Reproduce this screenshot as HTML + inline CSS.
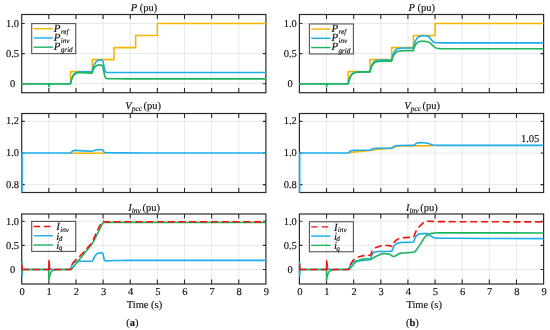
<!DOCTYPE html>
<html><head><meta charset="utf-8"><style>
html,body{margin:0;padding:0;background:#fff;}
svg{display:block;text-rendering:geometricPrecision;}
text{font-family:"Liberation Serif","Times New Roman",serif;fill:#111;stroke:#111;stroke-width:0.15px;}
.tl{font-size:10.5px;}
.tt{font-size:10.5px;}
.lg{font-size:11px;font-style:italic;}
.sb{font-size:7.2px;}
</style></head><body>
<svg width="550" height="330" viewBox="0 0 550 330">
<rect width="550" height="330" fill="#fff"/>
<path d="M48.83,14.5V92.7M75.97,14.5V92.7M103.1,14.5V92.7M130.23,14.5V92.7M157.37,14.5V92.7M184.5,14.5V92.7M211.63,14.5V92.7M238.77,14.5V92.7M21.7,83.68H265.9M21.7,53.6H265.9M21.7,23.52H265.9" stroke="#e2e2e2" stroke-width="0.75" fill="none"/>
<path d="M48.83,113.5V192.5M75.97,113.5V192.5M103.1,113.5V192.5M130.23,113.5V192.5M157.37,113.5V192.5M184.5,113.5V192.5M211.63,113.5V192.5M238.77,113.5V192.5M21.7,184.6H265.9M21.7,153.0H265.9M21.7,121.4H265.9" stroke="#e2e2e2" stroke-width="0.75" fill="none"/>
<path d="M48.83,214.0V284.0M75.97,214.0V284.0M103.1,214.0V284.0M130.23,214.0V284.0M157.37,214.0V284.0M184.5,214.0V284.0M211.63,214.0V284.0M238.77,214.0V284.0M21.7,269.52H265.9M21.7,245.38H265.9M21.7,221.24H265.9" stroke="#e2e2e2" stroke-width="0.75" fill="none"/>
<path d="M326.53,14.5V92.7M353.67,14.5V92.7M380.8,14.5V92.7M407.93,14.5V92.7M435.07,14.5V92.7M462.2,14.5V92.7M489.33,14.5V92.7M516.47,14.5V92.7M299.4,83.68H543.6M299.4,53.6H543.6M299.4,23.52H543.6" stroke="#e2e2e2" stroke-width="0.75" fill="none"/>
<path d="M326.53,113.5V192.5M353.67,113.5V192.5M380.8,113.5V192.5M407.93,113.5V192.5M435.07,113.5V192.5M462.2,113.5V192.5M489.33,113.5V192.5M516.47,113.5V192.5M299.4,184.6H543.6M299.4,153.0H543.6M299.4,121.4H543.6" stroke="#e2e2e2" stroke-width="0.75" fill="none"/>
<path d="M326.53,214.0V284.0M353.67,214.0V284.0M380.8,214.0V284.0M407.93,214.0V284.0M435.07,214.0V284.0M462.2,214.0V284.0M489.33,214.0V284.0M516.47,214.0V284.0M299.4,269.52H543.6M299.4,245.38H543.6M299.4,221.24H543.6" stroke="#e2e2e2" stroke-width="0.75" fill="none"/>
<path d="M48.83,92.7v-4.6M48.83,14.5v4.6M75.97,92.7v-4.6M75.97,14.5v4.6M103.1,92.7v-4.6M103.1,14.5v4.6M130.23,92.7v-4.6M130.23,14.5v4.6M157.37,92.7v-4.6M157.37,14.5v4.6M184.5,92.7v-4.6M184.5,14.5v4.6M211.63,92.7v-4.6M211.63,14.5v4.6M238.77,92.7v-4.6M238.77,14.5v4.6M21.7,83.68h3M265.9,83.68h-3M21.7,53.6h3M265.9,53.6h-3M21.7,23.52h3M265.9,23.52h-3" stroke="#2a2a2a" stroke-width="1.1" fill="none"/>
<rect x="21.7" y="14.5" width="244.2" height="78.2" stroke="#2a2a2a" stroke-width="1.2" fill="none"/>
<text x="12.5" y="86.68" text-anchor="middle" class="tl">0</text>
<text x="12.5" y="56.6" text-anchor="middle" class="tl">0.5</text>
<text x="12.5" y="26.52" text-anchor="middle" class="tl">1.0</text>
<path d="M48.83,192.5v-4.6M48.83,113.5v4.6M75.97,192.5v-4.6M75.97,113.5v4.6M103.1,192.5v-4.6M103.1,113.5v4.6M130.23,192.5v-4.6M130.23,113.5v4.6M157.37,192.5v-4.6M157.37,113.5v4.6M184.5,192.5v-4.6M184.5,113.5v4.6M211.63,192.5v-4.6M211.63,113.5v4.6M238.77,192.5v-4.6M238.77,113.5v4.6M21.7,184.6h3M265.9,184.6h-3M21.7,153.0h3M265.9,153.0h-3M21.7,121.4h3M265.9,121.4h-3" stroke="#2a2a2a" stroke-width="1.1" fill="none"/>
<rect x="21.7" y="113.5" width="244.2" height="79.0" stroke="#2a2a2a" stroke-width="1.2" fill="none"/>
<text x="12.5" y="187.6" text-anchor="middle" class="tl">0.8</text>
<text x="12.5" y="156.0" text-anchor="middle" class="tl">1.0</text>
<text x="12.5" y="124.4" text-anchor="middle" class="tl">1.2</text>
<path d="M48.83,284.0v-4.6M48.83,214.0v4.6M75.97,284.0v-4.6M75.97,214.0v4.6M103.1,284.0v-4.6M103.1,214.0v4.6M130.23,284.0v-4.6M130.23,214.0v4.6M157.37,284.0v-4.6M157.37,214.0v4.6M184.5,284.0v-4.6M184.5,214.0v4.6M211.63,284.0v-4.6M211.63,214.0v4.6M238.77,284.0v-4.6M238.77,214.0v4.6M21.7,269.52h3M265.9,269.52h-3M21.7,245.38h3M265.9,245.38h-3M21.7,221.24h3M265.9,221.24h-3" stroke="#2a2a2a" stroke-width="1.1" fill="none"/>
<rect x="21.7" y="214.0" width="244.2" height="70.0" stroke="#2a2a2a" stroke-width="1.2" fill="none"/>
<text x="12.5" y="273.32" text-anchor="middle" class="tl">0</text>
<text x="12.5" y="249.18" text-anchor="middle" class="tl">0.5</text>
<text x="12.5" y="225.04" text-anchor="middle" class="tl">1.0</text>
<path d="M326.53,92.7v-4.6M326.53,14.5v4.6M353.67,92.7v-4.6M353.67,14.5v4.6M380.8,92.7v-4.6M380.8,14.5v4.6M407.93,92.7v-4.6M407.93,14.5v4.6M435.07,92.7v-4.6M435.07,14.5v4.6M462.2,92.7v-4.6M462.2,14.5v4.6M489.33,92.7v-4.6M489.33,14.5v4.6M516.47,92.7v-4.6M516.47,14.5v4.6M299.4,83.68h3M543.6,83.68h-3M299.4,53.6h3M543.6,53.6h-3M299.4,23.52h3M543.6,23.52h-3" stroke="#2a2a2a" stroke-width="1.1" fill="none"/>
<rect x="299.4" y="14.5" width="244.2" height="78.2" stroke="#2a2a2a" stroke-width="1.2" fill="none"/>
<text x="290.2" y="86.68" text-anchor="middle" class="tl">0</text>
<text x="290.2" y="56.6" text-anchor="middle" class="tl">0.5</text>
<text x="290.2" y="26.52" text-anchor="middle" class="tl">1.0</text>
<path d="M326.53,192.5v-4.6M326.53,113.5v4.6M353.67,192.5v-4.6M353.67,113.5v4.6M380.8,192.5v-4.6M380.8,113.5v4.6M407.93,192.5v-4.6M407.93,113.5v4.6M435.07,192.5v-4.6M435.07,113.5v4.6M462.2,192.5v-4.6M462.2,113.5v4.6M489.33,192.5v-4.6M489.33,113.5v4.6M516.47,192.5v-4.6M516.47,113.5v4.6M299.4,184.6h3M543.6,184.6h-3M299.4,153.0h3M543.6,153.0h-3M299.4,121.4h3M543.6,121.4h-3" stroke="#2a2a2a" stroke-width="1.1" fill="none"/>
<rect x="299.4" y="113.5" width="244.2" height="79.0" stroke="#2a2a2a" stroke-width="1.2" fill="none"/>
<text x="290.2" y="187.6" text-anchor="middle" class="tl">0.8</text>
<text x="290.2" y="156.0" text-anchor="middle" class="tl">1.0</text>
<text x="290.2" y="124.4" text-anchor="middle" class="tl">1.2</text>
<path d="M326.53,284.0v-4.6M326.53,214.0v4.6M353.67,284.0v-4.6M353.67,214.0v4.6M380.8,284.0v-4.6M380.8,214.0v4.6M407.93,284.0v-4.6M407.93,214.0v4.6M435.07,284.0v-4.6M435.07,214.0v4.6M462.2,284.0v-4.6M462.2,214.0v4.6M489.33,284.0v-4.6M489.33,214.0v4.6M516.47,284.0v-4.6M516.47,214.0v4.6M299.4,269.52h3M543.6,269.52h-3M299.4,245.38h3M543.6,245.38h-3M299.4,221.24h3M543.6,221.24h-3" stroke="#2a2a2a" stroke-width="1.1" fill="none"/>
<rect x="299.4" y="214.0" width="244.2" height="70.0" stroke="#2a2a2a" stroke-width="1.2" fill="none"/>
<text x="290.2" y="273.32" text-anchor="middle" class="tl">0</text>
<text x="290.2" y="249.18" text-anchor="middle" class="tl">0.5</text>
<text x="290.2" y="225.04" text-anchor="middle" class="tl">1.0</text>
<path d="M21.7,83.68 L70.54,83.68 L70.54,71.65 L92.25,71.65 L92.25,59.62 L113.95,59.62 L113.95,47.58 L135.66,47.58 L135.66,35.55 L157.37,35.55 L157.37,23.52 L265.9,23.52" stroke="#F7B500" stroke-width="1.6" fill="none" stroke-linejoin="round"/>
<path d="M21.70,83.68 L70.54,83.68 L70.95,81.73 L71.42,79.85 L71.90,78.33 L72.37,77.08 L72.91,75.94 L73.52,74.94 L74.20,74.10 L74.88,73.48 L75.76,72.90 L76.85,72.43 L78.07,72.11 L79.56,71.89 L81.26,71.76 L83.50,71.69 L92.25,71.65 L92.92,68.66 L93.67,66.20 L94.49,64.25 L95.37,62.75 L96.38,61.58 L97.00,61.08 L97.61,60.69 L98.35,60.33 L99.10,60.07 L99.98,59.86 L100.73,59.77 L101.47,59.83 L102.01,60.10 L102.42,60.55 L102.83,61.37 L103.37,63.26 L104.59,69.26 L104.93,70.41 L105.27,71.21 L105.61,71.71 L106.02,72.07 L106.56,72.29 L107.24,72.40 L265.90,72.43" stroke="#1AACEC" stroke-width="1.6" fill="none" stroke-linejoin="round"/>
<path d="M21.70,83.68 L48.77,83.68 L48.83,86.68 L49.17,85.29 L49.58,84.44 L49.85,84.14 L50.12,83.96 L50.87,83.75 L52.84,83.68 L70.54,83.68 L70.95,81.83 L71.42,80.05 L71.96,78.41 L72.51,77.12 L73.12,75.99 L73.73,75.12 L74.41,74.39 L75.22,73.75 L76.10,73.27 L77.19,72.89 L78.88,72.72 L81.33,72.73 L92.25,73.11 L92.79,71.19 L93.40,69.54 L94.08,68.17 L94.82,67.10 L95.71,66.22 L96.66,65.61 L97.81,65.16 L99.10,64.88 L100.45,64.93 L101.34,65.10 L101.95,65.45 L102.42,66.03 L102.83,66.92 L103.17,68.06 L104.46,74.63 L104.80,76.00 L105.14,76.98 L105.54,77.73 L106.02,78.21 L106.63,78.49 L107.58,78.64 L113.89,78.80 L126.91,78.85 L265.90,78.86" stroke="#1DB45E" stroke-width="1.6" fill="none" stroke-linejoin="round"/>
<path d="M299.4,83.68 L348.24,83.68 L348.24,71.65 L369.95,71.65 L369.95,59.62 L391.65,59.62 L391.65,47.58 L413.36,47.58 L413.36,35.55 L435.07,35.55 L435.07,23.52 L543.6,23.52" stroke="#F7B500" stroke-width="1.6" fill="none" stroke-linejoin="round"/>
<path d="M299.40,83.68 L348.24,83.68 L348.71,81.44 L349.19,79.62 L349.73,77.95 L350.27,76.62 L350.89,75.47 L351.50,74.58 L352.24,73.77 L353.06,73.14 L353.94,72.66 L355.02,72.28 L356.24,72.02 L357.67,71.85 L361.54,71.68 L369.95,71.65 L370.49,69.19 L371.03,67.24 L371.71,65.38 L372.39,63.99 L373.13,62.86 L374.02,61.92 L375.03,61.21 L376.19,60.70 L377.07,60.45 L378.02,60.27 L380.60,60.03 L384.26,59.94 L391.65,59.92 L392.06,57.97 L392.54,56.09 L393.01,54.57 L393.48,53.32 L394.03,52.18 L394.64,51.18 L395.32,50.34 L395.99,49.72 L396.88,49.14 L397.96,48.67 L399.18,48.35 L400.68,48.13 L402.37,48.00 L404.61,47.93 L413.36,47.89 L414.04,44.90 L414.72,42.63 L415.53,40.62 L416.41,39.09 L416.89,38.46 L417.43,37.88 L417.97,37.42 L418.58,37.01 L419.94,36.39 L421.64,35.98 L423.47,35.78 L425.37,35.76 L426.79,35.92 L427.88,36.25 L428.69,36.71 L429.50,37.40 L430.25,38.25 L432.08,40.62 L432.69,41.26 L433.30,41.76 L434.05,42.20 L434.93,42.51 L435.95,42.71 L437.17,42.82 L443.07,42.89 L543.60,42.89" stroke="#1AACEC" stroke-width="1.6" fill="none" stroke-linejoin="round"/>
<path d="M299.40,83.68 L326.47,83.68 L326.53,86.68 L326.87,85.29 L327.28,84.44 L327.55,84.14 L327.82,83.96 L328.57,83.75 L330.54,83.68 L348.24,83.68 L348.71,81.60 L349.26,79.68 L349.80,78.14 L350.41,76.77 L351.09,75.60 L351.77,74.71 L352.51,73.99 L353.40,73.37 L354.34,72.91 L355.36,72.58 L356.58,72.33 L358.08,72.16 L361.94,71.99 L369.95,71.95 L370.42,70.03 L370.90,68.46 L371.44,67.00 L371.98,65.83 L372.59,64.78 L373.27,63.90 L373.95,63.22 L374.76,62.63 L375.71,62.14 L376.73,61.79 L378.02,61.52 L379.51,61.33 L383.45,61.16 L391.65,61.12 L392.54,57.93 L393.01,56.63 L393.55,55.43 L394.10,54.47 L394.71,53.61 L395.38,52.88 L396.13,52.28 L397.08,51.73 L398.10,51.34 L399.39,51.04 L400.88,50.83 L404.88,50.64 L413.36,50.59 L413.97,48.40 L414.58,46.69 L415.26,45.23 L416.01,44.03 L416.82,43.08 L417.77,42.30 L418.85,41.72 L420.14,41.29 L422.31,41.24 L425.03,41.40 L426.93,41.67 L428.35,42.07 L429.44,42.58 L430.45,43.28 L431.40,44.12 L433.71,46.43 L434.46,47.04 L435.20,47.54 L436.15,47.99 L437.17,48.31 L438.39,48.53 L439.88,48.66 L442.87,48.76 L448.84,48.78 L543.60,48.79" stroke="#1DB45E" stroke-width="1.6" fill="none" stroke-linejoin="round"/>
<path d="M71.35,153.24 L105.27,153.24" stroke="#F7B500" stroke-width="1.6" fill="none" stroke-linejoin="round"/>
<path d="M22.0,192.5V153.0" stroke="#1AACEC" stroke-width="1.6" fill="none" stroke-linejoin="round"/>
<path d="M21.70,153.00 L70.54,153.00 L70.88,152.82 L71.96,151.60 L72.64,151.04 L73.52,150.63 L74.61,150.42 L75.97,150.34 L83.97,150.87 L92.31,151.21 L92.92,151.08 L94.89,150.28 L96.05,149.99 L97.74,149.78 L100.18,149.71 L101.81,149.75 L102.56,149.92 L102.83,150.09 L103.10,150.36 L104.05,151.94 L104.52,152.45 L104.80,152.59 L105.20,152.70 L106.49,152.78 L121.42,152.91 L143.46,152.98 L265.90,153.00" stroke="#1AACEC" stroke-width="1.6" fill="none" stroke-linejoin="round"/>
<path d="M349.05,153.03 L350.75,152.49 L352.78,152.17 L370.42,150.52 L373.68,149.87 L376.59,149.49 L391.99,148.15 L392.81,147.94 L395.11,147.06 L396.54,146.62 L398.23,146.27 L400.13,146.04 L402.85,145.90 L406.85,145.83 L433.71,145.81" stroke="#F7B500" stroke-width="1.6" fill="none" stroke-linejoin="round"/>
<path d="M299.7,192.5V153.0" stroke="#1AACEC" stroke-width="1.6" fill="none" stroke-linejoin="round"/>
<path d="M299.40,153.00 L348.24,153.00 L348.58,152.82 L349.60,151.67 L350.27,151.09 L351.09,150.68 L352.04,150.46 L353.19,150.36 L355.43,150.30 L370.01,150.20 L370.49,150.03 L371.78,149.24 L372.59,148.87 L373.61,148.58 L374.76,148.42 L378.90,148.25 L391.72,148.14 L392.20,147.90 L393.42,146.84 L394.16,146.33 L394.98,145.96 L395.93,145.71 L397.35,145.53 L399.39,145.46 L413.43,145.42 L413.97,145.17 L415.73,143.78 L416.75,143.25 L417.43,143.02 L418.24,142.85 L420.28,142.67 L423.20,142.70 L425.71,142.94 L427.67,143.36 L431.20,144.52 L432.83,144.93 L435.00,145.23 L437.98,145.37 L445.92,145.42 L543.60,145.42" stroke="#1AACEC" stroke-width="1.6" fill="none" stroke-linejoin="round"/>
<path d="M22.0,261.79V276.76" stroke="#1AACEC" stroke-width="1.6" fill="none" stroke-linejoin="round"/>
<path d="M21.70,269.52 L48.77,269.52 L48.83,268.07 L49.58,268.60 L50.53,269.01 L51.61,269.25 L53.04,269.41 L56.91,269.51 L70.81,269.52 L71.42,266.76 L71.76,265.65 L72.17,264.62 L72.58,263.83 L73.05,263.14 L73.59,262.58 L74.20,262.16 L74.81,261.87 L75.56,261.65 L76.44,261.50 L77.59,261.40 L82.75,261.22 L92.31,261.10 L92.59,260.89 L92.92,260.35 L94.28,257.37 L94.96,256.08 L95.57,255.17 L96.25,254.40 L97.13,253.71 L98.15,253.23 L99.44,252.91 L101.00,252.75 L101.61,252.76 L102.08,252.86 L102.42,253.07 L102.69,253.41 L102.96,254.00 L103.17,254.66 L103.98,258.53 L104.39,259.93 L104.66,260.45 L104.93,260.74 L105.27,260.93 L105.81,261.04 L110.15,260.73 L114.36,260.55 L119.92,260.44 L127.66,260.37 L265.90,260.34" stroke="#1AACEC" stroke-width="1.6" fill="none" stroke-linejoin="round"/>
<path d="M22.0,269.52V273.14" stroke="#1DB45E" stroke-width="1.6" fill="none" stroke-linejoin="round"/>
<path d="M21.70,269.52 L48.77,269.52 L48.83,280.14 L49.17,278.14 L49.58,276.23 L50.05,274.53 L50.53,273.26 L51.07,272.20 L51.61,271.44 L52.29,270.79 L53.04,270.32 L53.72,270.05 L54.46,269.85 L56.43,269.62 L59.75,269.53 L70.00,269.51 L70.74,269.43 L71.29,269.22 L71.96,268.68 L72.91,267.58 L91.03,245.15 L92.31,243.48 L92.99,242.42 L93.81,240.92 L102.22,224.18 L102.69,223.39 L103.10,222.89 L103.51,222.58 L103.98,222.41 L105.47,222.35 L265.90,222.45" stroke="#1DB45E" stroke-width="1.6" fill="none" stroke-linejoin="round"/>
<path d="M22.0,264.21V269.52" stroke="#F21111" stroke-width="1.6" fill="none" stroke-linejoin="round"/>
<path d="M21.70,269.52 L69.39,269.52 L70.27,269.50 L70.81,269.42 L71.35,266.99 L71.96,265.02 L72.64,263.50 L73.52,262.14 L74.81,260.75 L78.95,257.05 L82.14,253.80 L87.50,247.84 L91.30,243.42 L92.38,242.05 L93.20,240.39 L95.84,233.71 L97.94,229.25 L100.25,224.81 L101.54,222.47 L102.15,221.69 L102.42,221.52 L102.76,221.41 L103.44,221.42 L104.73,221.79 L105.81,221.85 L127.72,221.78 L265.90,221.83" stroke="#F21111" stroke-width="1.6" fill="none" stroke-linejoin="round" stroke-dasharray="7.2 3.6"/>
<path d="M48.83,269.52 L48.83,260.34 L49.73,264.54 L49.33,267.52 L50.23,269.52" stroke="#F21111" stroke-width="1.3" fill="#F21111" stroke-linejoin="round"/>
<path d="M299.7,261.79V276.76" stroke="#1AACEC" stroke-width="1.6" fill="none" stroke-linejoin="round"/>
<path d="M299.40,269.52 L326.47,269.52 L326.53,268.07 L327.28,268.60 L328.23,269.01 L329.31,269.25 L330.74,269.41 L334.74,269.51 L348.31,269.51 L348.65,269.26 L349.05,268.59 L350.34,265.37 L350.82,264.41 L352.31,262.52 L352.85,262.00 L353.33,261.68 L354.41,261.38 L356.11,261.12 L360.38,260.71 L366.35,260.32 L368.18,260.09 L369.54,259.82 L370.15,259.30 L370.56,258.80 L370.76,258.44 L371.17,257.39 L372.05,254.73 L372.52,253.74 L373.20,253.15 L374.08,252.55 L374.90,252.13 L375.71,251.83 L376.59,251.67 L378.49,251.56 L389.08,251.30 L391.72,251.16 L392.06,250.86 L392.40,250.23 L393.69,246.68 L394.16,245.66 L394.98,244.78 L396.06,243.95 L396.88,243.53 L398.23,243.06 L399.52,242.72 L400.74,242.52 L403.73,242.35 L410.58,242.19 L413.43,241.98 L413.77,241.67 L414.11,241.03 L415.39,237.47 L415.73,236.70 L416.01,236.28 L417.16,235.24 L418.18,234.50 L419.13,234.03 L420.01,233.81 L424.08,233.59 L427.27,233.59 L427.81,233.80 L428.35,234.14 L430.11,235.61 L430.73,236.05 L433.51,237.48 L434.18,237.72 L434.86,237.87 L438.12,238.08 L455.76,238.29 L484.04,238.49 L543.60,238.62" stroke="#1AACEC" stroke-width="1.6" fill="none" stroke-linejoin="round"/>
<path d="M299.7,269.52V273.14" stroke="#1DB45E" stroke-width="1.6" fill="none" stroke-linejoin="round"/>
<path d="M299.40,269.52 L326.47,269.52 L326.53,280.14 L326.87,278.14 L327.28,276.23 L327.69,274.75 L328.09,273.59 L328.57,272.56 L329.11,271.70 L329.72,271.02 L330.40,270.51 L331.15,270.14 L331.96,269.90 L332.98,269.72 L334.20,269.61 L337.73,269.53 L348.24,269.52 L348.65,269.44 L349.12,269.16 L349.73,268.61 L351.09,267.04 L352.31,265.76 L354.28,263.46 L355.36,262.39 L356.45,261.64 L358.01,260.73 L359.30,260.10 L360.45,259.66 L361.47,259.39 L363.71,258.98 L365.20,258.77 L366.55,258.67 L367.30,258.66 L367.71,258.71 L369.68,259.36 L370.22,259.37 L370.90,259.25 L371.64,258.98 L372.46,258.58 L375.31,256.75 L376.39,256.15 L380.60,254.24 L381.68,253.87 L382.70,253.65 L383.65,253.59 L385.48,253.66 L387.31,253.84 L389.14,254.11 L390.09,254.55 L391.79,255.76 L392.47,256.18 L393.08,256.42 L393.69,256.48 L394.43,256.36 L395.32,256.02 L396.20,255.54 L398.71,253.97 L399.52,253.59 L400.20,253.37 L401.69,253.13 L403.46,252.93 L411.12,252.39 L413.22,252.09 L414.51,251.78 L414.99,251.49 L415.46,251.07 L416.55,249.75 L418.92,246.09 L420.69,243.59 L423.74,238.73 L424.55,237.58 L425.30,236.69 L426.32,235.77 L428.49,234.46 L430.11,233.73 L431.61,233.34 L435.34,232.96 L438.73,232.83 L499.24,232.87 L543.60,233.07" stroke="#1DB45E" stroke-width="1.6" fill="none" stroke-linejoin="round"/>
<path d="M299.7,264.21V269.52" stroke="#F21111" stroke-width="1.6" fill="none" stroke-linejoin="round"/>
<path d="M299.40,269.52 L348.38,269.49 L348.71,269.16 L349.12,268.39 L350.41,264.90 L350.95,263.72 L352.11,261.89 L352.92,260.73 L353.53,260.04 L354.55,259.18 L355.63,258.41 L357.40,257.51 L359.36,256.66 L360.92,256.17 L363.98,255.61 L366.83,255.26 L367.71,255.23 L369.40,255.46 L369.81,255.36 L370.49,254.80 L370.83,254.31 L371.24,253.41 L372.12,251.08 L372.59,250.20 L374.42,248.47 L375.24,247.86 L375.98,247.42 L376.66,247.14 L380.60,245.89 L382.02,245.56 L383.24,245.41 L385.75,245.43 L389.08,245.65 L389.89,245.84 L391.65,246.53 L391.86,246.54 L392.20,246.31 L392.54,245.82 L393.82,242.93 L394.37,242.03 L395.52,240.89 L396.61,239.99 L398.03,239.09 L399.18,238.49 L400.34,238.09 L402.17,237.81 L404.41,237.63 L410.38,237.31 L412.27,237.10 L413.50,236.88 L413.83,236.51 L414.24,235.74 L415.46,232.39 L415.94,231.32 L418.52,227.57 L419.40,226.54 L420.96,225.08 L423.60,222.43 L424.55,221.75 L425.50,221.43 L426.52,221.32 L428.08,221.28 L431.40,221.39 L435.00,221.62 L543.60,221.94" stroke="#F21111" stroke-width="1.6" fill="none" stroke-linejoin="round" stroke-dasharray="7.2 3.6"/>
<path d="M326.53,269.52 L326.53,260.34 L327.43,264.54 L327.03,267.52 L327.93,269.52" stroke="#F21111" stroke-width="1.3" fill="#F21111" stroke-linejoin="round"/>
<rect x="31.7" y="23.6" width="44" height="30" fill="none" stroke="#555555" stroke-width="1.1"/>
<path d="M33.5,28.7H52.9" stroke="#F7B500" stroke-width="1.4"/>
<text x="53.7" y="31.6" class="lg"><tspan>P</tspan><tspan class="sb" dx="0.3" dy="2.2">ref</tspan></text>
<path d="M33.5,37.95H52.9" stroke="#1AACEC" stroke-width="1.4"/>
<text x="53.7" y="40.85" class="lg"><tspan>P</tspan><tspan class="sb" dx="0.3" dy="2.2">inv</tspan></text>
<path d="M33.5,47.2H52.9" stroke="#1DB45E" stroke-width="1.4"/>
<text x="53.7" y="50.1" class="lg"><tspan>P</tspan><tspan class="sb" dx="0.3" dy="2.2">grid</tspan></text>
<rect x="31.7" y="221.4" width="44" height="30" fill="none" stroke="#555555" stroke-width="1.1"/>
<path d="M33.5,226.5H52.9" stroke="#F21111" stroke-width="1.4" stroke-dasharray="6.5 4"/>
<text x="56.3" y="230.3" class="lg"><tspan>I</tspan><tspan class="sb" font-size="6.6" dx="0.2" dy="1.4">inv</tspan></text>
<path d="M33.5,235.75H52.9" stroke="#1AACEC" stroke-width="1.4"/>
<text x="56.3" y="239.55" class="lg"><tspan>i</tspan><tspan class="sb" font-size="6.6" dx="-0.7" dy="1.4">d</tspan></text>
<path d="M33.5,245.0H52.9" stroke="#1DB45E" stroke-width="1.4"/>
<text x="56.3" y="248.8" class="lg"><tspan>i</tspan><tspan class="sb" font-size="6.6" dx="-0.7" dy="1.4">q</tspan></text>
<rect x="309.4" y="23.950000000000003" width="44" height="30" fill="none" stroke="#555555" stroke-width="1.1"/>
<path d="M311.2,29.05H330.6" stroke="#F7B500" stroke-width="1.4"/>
<text x="331.4" y="31.95" class="lg"><tspan>P</tspan><tspan class="sb" dx="0.3" dy="2.2">ref</tspan></text>
<path d="M311.2,38.3H330.6" stroke="#1AACEC" stroke-width="1.4"/>
<text x="331.4" y="41.2" class="lg"><tspan>P</tspan><tspan class="sb" dx="0.3" dy="2.2">inv</tspan></text>
<path d="M311.2,47.55H330.6" stroke="#1DB45E" stroke-width="1.4"/>
<text x="331.4" y="50.45" class="lg"><tspan>P</tspan><tspan class="sb" dx="0.3" dy="2.2">grid</tspan></text>
<rect x="309.4" y="221.75" width="44" height="30" fill="none" stroke="#555555" stroke-width="1.1"/>
<path d="M311.2,226.85H330.6" stroke="#F21111" stroke-width="1.4" stroke-dasharray="6.5 4"/>
<text x="334.0" y="230.65" class="lg"><tspan>I</tspan><tspan class="sb" font-size="6.6" dx="0.2" dy="1.4">inv</tspan></text>
<path d="M311.2,236.1H330.6" stroke="#1AACEC" stroke-width="1.4"/>
<text x="334.0" y="239.9" class="lg"><tspan>i</tspan><tspan class="sb" font-size="6.6" dx="-0.7" dy="1.4">d</tspan></text>
<path d="M311.2,245.35H330.6" stroke="#1DB45E" stroke-width="1.4"/>
<text x="334.0" y="249.15" class="lg"><tspan>i</tspan><tspan class="sb" font-size="6.6" dx="-0.7" dy="1.4">q</tspan></text>
<text x="144.1" y="11.2" text-anchor="middle" class="tt"><tspan font-style="italic">P</tspan> (pu)</text>
<text x="143.1" y="109.3" text-anchor="middle" class="tt"><tspan font-style="italic">V</tspan><tspan font-style="italic" font-size="7.5" dy="1.8">pcc</tspan><tspan dy="-1.8" dx="-1.2"> (pu)</tspan></text>
<text x="144.1" y="210.8" text-anchor="middle" class="tt"><tspan font-style="italic">I</tspan><tspan font-style="italic" font-size="7.5" dy="1.8">inv</tspan><tspan dy="-1.8" dx="-1"> (pu)</tspan></text>
<text x="22.1" y="294.8" text-anchor="middle" class="tl">0</text>
<text x="49.23" y="294.8" text-anchor="middle" class="tl">1</text>
<text x="76.37" y="294.8" text-anchor="middle" class="tl">2</text>
<text x="103.5" y="294.8" text-anchor="middle" class="tl">3</text>
<text x="130.63" y="294.8" text-anchor="middle" class="tl">4</text>
<text x="157.77" y="294.8" text-anchor="middle" class="tl">5</text>
<text x="184.9" y="294.8" text-anchor="middle" class="tl">6</text>
<text x="212.03" y="294.8" text-anchor="middle" class="tl">7</text>
<text x="239.17" y="294.8" text-anchor="middle" class="tl">8</text>
<text x="266.3" y="294.8" text-anchor="middle" class="tl">9</text>
<text x="421.8" y="11.2" text-anchor="middle" class="tt"><tspan font-style="italic">P</tspan> (pu)</text>
<text x="422.1" y="109.3" text-anchor="middle" class="tt"><tspan font-style="italic">V</tspan><tspan font-style="italic" font-size="7.5" dy="1.8">pcc</tspan><tspan dy="-1.8" dx="-1.2"> (pu)</tspan></text>
<text x="421.8" y="210.8" text-anchor="middle" class="tt"><tspan font-style="italic">I</tspan><tspan font-style="italic" font-size="7.5" dy="1.8">inv</tspan><tspan dy="-1.8" dx="-1"> (pu)</tspan></text>
<text x="299.8" y="294.8" text-anchor="middle" class="tl">0</text>
<text x="326.93" y="294.8" text-anchor="middle" class="tl">1</text>
<text x="354.07" y="294.8" text-anchor="middle" class="tl">2</text>
<text x="381.2" y="294.8" text-anchor="middle" class="tl">3</text>
<text x="408.33" y="294.8" text-anchor="middle" class="tl">4</text>
<text x="435.47" y="294.8" text-anchor="middle" class="tl">5</text>
<text x="462.6" y="294.8" text-anchor="middle" class="tl">6</text>
<text x="489.73" y="294.8" text-anchor="middle" class="tl">7</text>
<text x="516.87" y="294.8" text-anchor="middle" class="tl">8</text>
<text x="544.0" y="294.8" text-anchor="middle" class="tl">9</text>
<text x="126.7" y="307.9" class="tl">Time (s)</text>
<text x="406.4" y="307.9" class="tl">Time (s)</text>
<text x="126.3" y="325.6" class="tl" font-size="11.4">(<tspan font-weight="bold">a</tspan>)</text>
<text x="405.9" y="325.6" class="tl" font-size="11.4">(<tspan font-weight="bold">b</tspan>)</text>
<text x="539.3" y="142.3" text-anchor="end" class="tl">1.05</text>
</svg>
</body></html>
